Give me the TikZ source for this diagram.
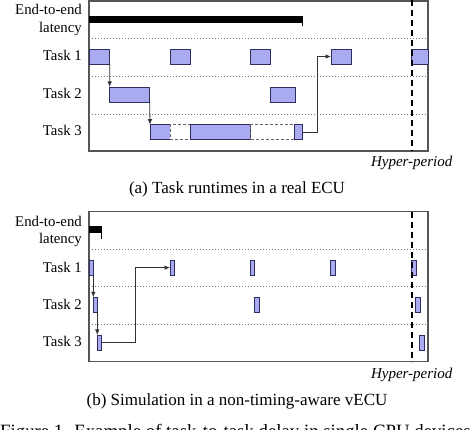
\documentclass[tikz,border=0pt]{standalone}
\usepackage{fontspec}
\setmainfont{Liberation Serif}
\usetikzlibrary{arrows.meta}
\definecolor{boxfill}{RGB}{170,170,240}
\definecolor{boxline}{RGB}{45,45,95}
\definecolor{framecol}{RGB}{85,85,85}
\begin{document}
\begin{tikzpicture}[x=1pt,y=-1pt,
  tb/.style={draw=boxline, fill=boxfill, line width=0.9pt, inner sep=0pt, outer sep=0pt, anchor=north west, minimum height=15pt},
  tbs/.style={tb, minimum height=15.3pt},
  gapbox/.style={draw=black!60, dashed, dash pattern=on 3pt off 2pt, fill=white, line width=0.9pt, inner sep=0pt, outer sep=0pt, anchor=north west, minimum height=15pt},
  lbl/.style={anchor=base east, align=right, font=\fontsize{14.8}{17.3}\selectfont, inner sep=0pt},
  hp/.style={anchor=base, font=\fontsize{15}{18}\selectfont\itshape, inner sep=0pt},
  captext/.style={anchor=base, font=\fontsize{17}{20}\selectfont, inner sep=0pt},
  frm/.style={draw=framecol, line width=1.2pt},
  dots/.style={draw=black!55, line width=0.8pt, dash pattern=on 0.8pt off 2.2pt},
  arr/.style={draw=black!80, line width=0.8pt, -{Latex[length=5.5pt,width=4.5pt]}},
  hyper/.style={draw=black, line width=2pt, dash pattern=on 6pt off 4pt},
  lat/.style={fill=black}
]
\useasboundingbox (0,0) rectangle (474,430);

% ---------------- panel (a) ----------------
\draw[frm] (89,1) rectangle (428,151);
\foreach \yy in {38,76,114} \draw[dots] (89,\yy) -- (428,\yy);
\fill[lat] (89,16) rectangle (302.5,23);
\draw[line width=1pt] (302,16) -- (302,26);

\node[lbl] (la0) at (82,32.3) {End-to-end\\latency};
\node[lbl] (la1) at (82,61) {Task 1};
\node[lbl] (la2) at (82,98.7) {Task 2};
\node[lbl] (la3) at (82,136) {Task 3};

\node[tb, minimum width=20.7pt] (a11) at (89,49) {};
\node[tb, minimum width=20pt] (a12) at (170,49) {};
\node[tb, minimum width=20pt] (a13) at (250.7,49) {};
\node[tb, minimum width=20.3pt] (a14) at (331,49) {};
\node[tb, minimum width=16.3pt] (a15) at (411.7,49) {};

\node[tb, minimum width=40pt] (a21) at (109.7,87) {};
\node[tb, minimum width=24.3pt] (a22) at (270.7,87) {};

\node[tb, minimum width=20pt] (a31) at (150,124.7) {};
\node[gapbox, minimum width=20.3pt] (g1) at (170,124.7) {};
\node[tb, minimum width=60.4pt] (a32) at (190.3,124.7) {};
\node[gapbox, minimum width=43.6pt] (g2) at (250.7,124.7) {};
\node[tb, minimum width=8.4pt] (a33) at (294.3,124.7) {};

\draw[arr] (a11.south east) -- (a21.north west);
\draw[arr] (a21.south east) -- (a31.north west);
\draw[arr] (a33.east) -- ++(14.5,0) |- (a14.west);

\draw[hyper] (411.7,0) -- (411.7,151);
\node[hp] (hpa) at (411.7,167) {Hyper-period};
\node[captext] (capa) at (237,194) {(a) Task runtimes in a real ECU};

% ---------------- panel (b) ----------------
\draw[frm] (89,211.7) rectangle (428,361.7);
\foreach \yy in {249,286.7,324} \draw[dots] (89,\yy) -- (428,\yy);
\fill[lat] (89,226.5) rectangle (101.9,233.5);
\draw[line width=1pt] (101.5,226.5) -- (101.5,239);

\node[lbl] (lb0) at (82,243.5) {End-to-end\\latency};
\node[lbl] (lb1) at (82,272.7) {Task 1};
\node[lbl] (lb2) at (82,310) {Task 2};
\node[lbl] (lb3) at (82,346.7) {Task 3};

\node[tbs, minimum width=4pt] (b11) at (89.7,260) {};
\node[tbs, minimum width=4pt] (b12) at (170,260) {};
\node[tbs, minimum width=4pt] (b13) at (250.7,260) {};
\node[tbs, minimum width=4.3pt] (b14) at (330.7,260) {};
\node[tbs, minimum width=4.3pt] (b15) at (411.7,260) {};

\node[tbs, minimum width=4.4pt] (b21) at (93.3,297.3) {};
\node[tbs, minimum width=4.7pt] (b22) at (254.3,297.3) {};
\node[tbs, minimum width=4.7pt] (b23) at (415.3,297.3) {};

\node[tbs, minimum width=4.4pt] (b31) at (97.3,335) {};
\node[tbs, minimum width=4.3pt] (b32) at (419.7,335) {};

\draw[arr] (b21.north west |- b11.south) -- (b21.north west);
\draw[arr] (b31.north west |- b21.south) -- (b31.north west);
\draw[arr] (b31.east) -- ++(33.6,0) |- (b12.west);

\draw[hyper] (411.7,211.7) -- (411.7,361.7);
\node[hp] (hpb) at (411.7,378) {Hyper-period};
\node[captext] (capb) at (237,405.5) {(b) Simulation in a non-timing-aware vECU};

% ---------------- figure caption (cut off in the reference) ----------------
\node[anchor=base west, inner sep=0pt, font=\fontsize{18.8}{22}\selectfont] (fig) at (0,437.5) {Figure 1. Example of task-to-task delay in single CPU devices};
\end{tikzpicture}
\end{document}
